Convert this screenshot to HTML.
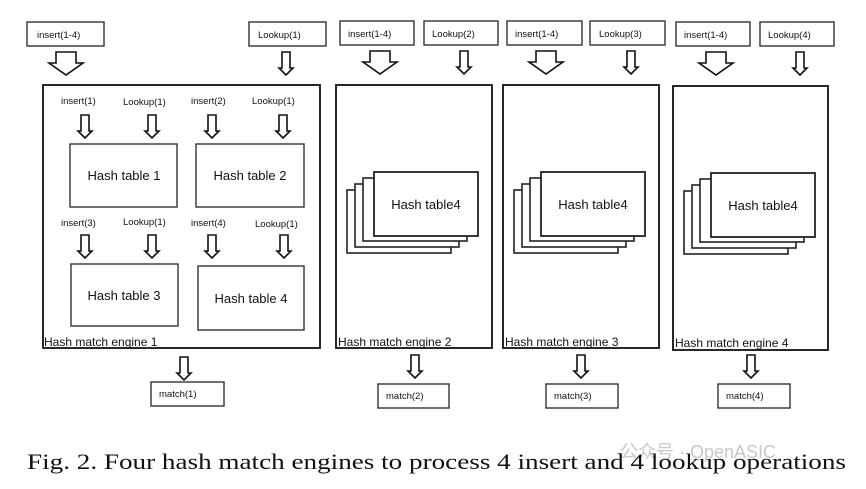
<!DOCTYPE html>
<html><head><meta charset="utf-8"><style>
html,body{margin:0;padding:0;background:#fff;width:866px;height:489px;overflow:hidden}
svg text{font-family:"Liberation Sans",sans-serif;fill:#111}
</style></head><body>
<svg width="866" height="489" viewBox="0 0 866 489" xmlns="http://www.w3.org/2000/svg">
<defs>
<path id="sa" d="M-4,0 H4 V16 H7 L0,23 L-7,16 H-4 Z" fill="#fff" stroke="#111" stroke-width="1.6"/>
<path id="ba" d="M-10,0 H10 V11 H17 L0,23 L-17,11 H-10 Z" fill="#fff" stroke="#111" stroke-width="1.6"/>
<g id="stack">
<rect x="-27" y="18" width="104" height="63" fill="#fff" stroke="#222" stroke-width="1.6"/>
<rect x="-19" y="12" width="104" height="63" fill="#fff" stroke="#222" stroke-width="1.6"/>
<rect x="-11" y="6" width="104" height="63" fill="#fff" stroke="#222" stroke-width="1.6"/>
<rect x="0" y="0" width="104" height="64" fill="#fff" stroke="#222" stroke-width="1.8"/>
</g>
</defs>
<g fill="#fff" stroke="#333" stroke-width="1.4">
<rect x="27" y="22" width="77" height="24"/><rect x="249" y="22" width="77" height="24"/>
<rect x="340" y="21" width="74" height="24"/><rect x="424" y="21" width="74" height="24"/>
<rect x="507" y="21" width="75" height="24"/><rect x="590" y="21" width="75" height="24"/>
<rect x="676" y="22" width="74" height="24"/><rect x="760" y="22" width="74" height="24"/>
</g>
<g font-size="9.5">
<text x="37" y="38">insert(1-4)</text><text x="258" y="38">Lookup(1)</text>
<text x="348" y="37">insert(1-4)</text><text x="432" y="37">Lookup(2)</text>
<text x="515" y="37">insert(1-4)</text><text x="599" y="37">Lookup(3)</text>
<text x="684" y="38">insert(1-4)</text><text x="768" y="38">Lookup(4)</text>
</g>
<use href="#ba" x="66" y="52"/><use href="#sa" x="286" y="52"/>
<use href="#ba" x="380" y="51"/><use href="#sa" x="464" y="51"/>
<use href="#ba" x="546" y="51"/><use href="#sa" x="631" y="51"/>
<use href="#ba" x="716" y="52"/><use href="#sa" x="800" y="52"/>
<g fill="none" stroke="#111" stroke-width="1.8">
<rect x="43" y="85" width="277" height="263"/>
<rect x="336" y="85" width="156" height="263"/>
<rect x="503" y="85" width="156" height="263"/>
<rect x="673" y="86" width="155" height="264"/>
</g>
<g font-size="9.5">
<text x="61" y="104">insert(1)</text><text x="123" y="105">Lookup(1)</text>
<text x="191" y="104">insert(2)</text><text x="252" y="104">Lookup(1)</text>
<text x="61" y="226">insert(3)</text><text x="123" y="225">Lookup(1)</text>
<text x="191" y="226">insert(4)</text><text x="255" y="227">Lookup(1)</text>
</g>
<use href="#sa" x="85" y="115"/><use href="#sa" x="152" y="115"/>
<use href="#sa" x="212" y="115"/><use href="#sa" x="283" y="115"/>
<use href="#sa" x="85" y="235"/><use href="#sa" x="152" y="235"/>
<use href="#sa" x="212" y="235"/><use href="#sa" x="284" y="235"/>
<g fill="#fff" stroke="#333" stroke-width="1.4">
<rect x="70" y="144" width="107" height="63"/><rect x="196" y="144" width="108" height="63"/>
<rect x="71" y="264" width="107" height="62"/><rect x="198" y="266" width="106" height="64"/>
</g>
<g font-size="13" text-anchor="middle">
<text x="124" y="180">Hash table 1</text><text x="250" y="180">Hash table 2</text>
<text x="124" y="300">Hash table 3</text><text x="251" y="303">Hash table 4</text>
</g>
<use href="#stack" x="374" y="172"/><use href="#stack" x="541" y="172"/><use href="#stack" x="711" y="173"/>
<g font-size="13" text-anchor="middle">
<text x="426" y="209">Hash table4</text><text x="593" y="209">Hash table4</text><text x="763" y="210">Hash table4</text>
</g>
<g font-size="12">
<text x="44" y="346">Hash match engine 1</text><text x="338" y="346">Hash match engine 2</text>
<text x="505" y="346">Hash match engine 3</text><text x="675" y="347">Hash match engine 4</text>
</g>
<use href="#sa" x="184" y="357"/><use href="#sa" x="415" y="355"/>
<use href="#sa" x="581" y="355"/><use href="#sa" x="751" y="355"/>
<g fill="#fff" stroke="#333" stroke-width="1.4">
<rect x="151" y="382" width="73" height="24"/><rect x="378" y="384" width="71" height="24"/>
<rect x="546" y="384" width="72" height="24"/><rect x="718" y="384" width="72" height="24"/>
</g>
<g font-size="9.5">
<text x="159" y="397">match(1)</text><text x="386" y="399">match(2)</text>
<text x="554" y="399">match(3)</text><text x="726" y="399">match(4)</text>
</g>
<text x="620" y="458" font-size="18" fill="#ccc" style="fill:#c8c8c8" font-family="Liberation Sans, Noto Sans CJK SC, sans-serif">公众号 · OpenASIC</text>
<text x="27" y="469" font-size="22" style="font-family:'Liberation Serif',serif;fill:#111" textLength="819" lengthAdjust="spacingAndGlyphs">Fig. 2.  Four hash match engines to process 4 insert and 4 lookup operations</text>
</svg>
</body></html>
